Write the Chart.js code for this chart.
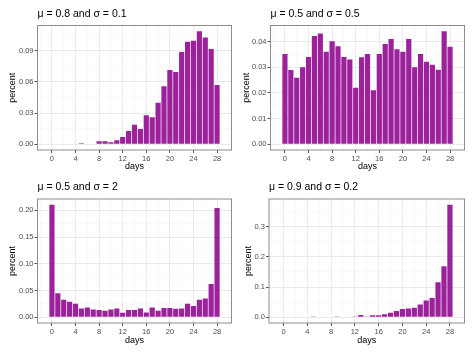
<!DOCTYPE html>
<html>
<head>
<meta charset="utf-8">
<script src="https://cdn.jsdelivr.net/npm/chart.js@4/dist/chart.umd.min.js"></script>
<style>
  html, body { margin: 0; padding: 0; background: #ffffff; }
  #wrap { position: relative; width: 474px; height: 355px; }
  canvas { position: absolute; display: block; }
</style>
</head>
<body>
<div id="wrap">
  <canvas id="c1" width="237" height="177" style="left:0;top:0"></canvas>
  <canvas id="c2" width="237" height="177" style="left:237px;top:0"></canvas>
  <canvas id="c3" width="237" height="178" style="left:0;top:177px"></canvas>
  <canvas id="c4" width="237" height="178" style="left:237px;top:177px"></canvas>
</div>
<script>
// ---- data ----
const days = [0,1,2,3,4,5,6,7,8,9,10,11,12,13,14,15,16,17,18,19,20,21,22,23,24,25,26,27,28];
const titles = ["\u03BC = 0.8 and \u03C3 = 0.1", "\u03BC = 0.5 and \u03C3 = 0.5", "\u03BC = 0.5 and \u03C3 = 2", "\u03BC = 0.9 and \u03C3 = 0.2"];
const valuesA = [0,0,0,0,0,0.001,0,0,0.003,0.003,0.002,0.004,0.007,0.0127,0.0188,0.0146,0.028,0.026,0.040,0.0557,0.0713,0.0694,0.0885,0.0984,0.0994,0.1086,0.1025,0.0914,0.057];
const valuesB = [0.0351,0.0289,0.0259,0.0300,0.0340,0.0421,0.0431,0.0360,0.0401,0.0381,0.0340,0.0330,0.0220,0.0339,0.0351,0.0210,0.0351,0.0390,0.0410,0.0370,0.0360,0.0410,0.0300,0.0351,0.0321,0.0309,0.0290,0.0440,0.0379];
const valuesC = [0.2105,0.045,0.033,0.029,0.0253,0.0167,0.0185,0.0148,0.0136,0.0123,0.0148,0.0167,0.0086,0.0136,0.0136,0.0167,0.0093,0.0185,0.0123,0.0173,0.0173,0.016,0.0167,0.0253,0.021,0.0327,0.0352,0.0623,0.204];
const valuesD = [0,0,0,0,0,0.001,0,0,0,0.001,0.002,0.002,0.003,0.0077,0.001,0.0066,0.0066,0.0099,0.0153,0.0208,0.0274,0.0296,0.0318,0.0427,0.0559,0.0635,0.116,0.169,0.372];
const xTickStep = 4;
const yMajorSteps = [0.03, 0.01, 0.05, 0.1];
const yDecimals = [2, 2, 2, 1];
const xLabel = "days";
const yLabel = "percent";

// ---- styling ----
const FONT = "'Liberation Sans', Arial, Helvetica, sans-serif";
const BAR = '#9C229C';
const GRID_MAJOR = '#EBEBEB';
const GRID_MINOR = '#F3F3F3';

const borderPlugin = {
  id: 'panelBorder',
  afterDraw(chart) {
    const a = chart.chartArea, ctx = chart.ctx;
    ctx.save();
    ctx.strokeStyle = '#8c8c8c';
    ctx.lineWidth = 1;
    ctx.strokeRect(a.left, a.top, a.right - a.left, a.bottom - a.top);
    ctx.restore();
  }
};

function isMult(v, step) {
  const r = v / step;
  return Math.abs(r - Math.round(r)) < 1e-6;
}

function makePanel(id, title, values, majorStep, decimals, lay) {
  const H = document.getElementById(id).height;
  const W = 237;
  const maxV = Math.max(...values);
  const yMin = -maxV * 0.05, yMax = maxV * 1.05;
  const minorStep = majorStep / 2;
  new Chart(document.getElementById(id), {
    type: 'bar',
    data: {
      datasets: [{
        data: days.map((d, i) => ({ x: d, y: values[i] })),
        backgroundColor: BAR,
        borderWidth: 0,
        barPercentage: 0.88,
        categoryPercentage: 1.0
      }]
    },
    options: {
      responsive: false,
      animation: false,
      devicePixelRatio: 1,
      layout: { padding: { left: 0, top: 0, right: W - lay.right, bottom: 0 } },
      plugins: {
        legend: { display: false },
        tooltip: { enabled: false },
        title: {
          display: true,
          text: title,
          align: 'start',
          fullSize: false,
          color: '#000',
          font: { family: FONT, size: 10.5, weight: 'normal', lineHeight: 1.2 },
          padding: { top: lay.titleCenter - 6.3, bottom: lay.top - 12.6 - (lay.titleCenter - 6.3) }
        }
      },
      scales: {
        x: {
          type: 'linear',
          min: -2.45, max: 30.45,
          offset: false,
          border: { display: false },
          grid: {
            offset: false,
            drawTicks: true,
            tickLength: 3,
            color: c => isMult(c.tick.value, xTickStep) ? GRID_MAJOR : GRID_MINOR,
            lineWidth: c => isMult(c.tick.value, xTickStep) ? 1 : 0.6,
            tickColor: c => isMult(c.tick.value, xTickStep) ? '#555' : 'rgba(0,0,0,0)'
          },
          ticks: {
            stepSize: xTickStep / 2,
            includeBounds: false,
            autoSkip: false,
            maxRotation: 0,
            maxTicksLimit: 100,
            padding: 1,
            color: '#4D4D4D',
            font: { family: FONT, size: 7.5 },
            callback: v => isMult(v, xTickStep) ? String(Math.round(v)) : ''
          },
          title: {
            display: true, text: xLabel, color: '#000',
            font: { family: FONT, size: 9, lineHeight: 1.2 },
            padding: { top: 0, bottom: lay.xTitleOff - 5.4 }
          },
          afterFit: s => { s.height = H - lay.bottom; }
        },
        y: {
          type: 'linear',
          min: yMin, max: yMax,
          border: { display: false },
          grid: {
            drawTicks: true,
            tickLength: 3,
            color: c => isMult(c.tick.value, majorStep) ? GRID_MAJOR : GRID_MINOR,
            lineWidth: c => isMult(c.tick.value, majorStep) ? 1 : 0.6,
            tickColor: c => isMult(c.tick.value, majorStep) ? '#555' : 'rgba(0,0,0,0)'
          },
          ticks: {
            stepSize: minorStep,
            includeBounds: false,
            autoSkip: false,
            maxTicksLimit: 100,
            padding: 1,
            color: '#4D4D4D',
            font: { family: FONT, size: 7.5 },
            callback: v => isMult(v, majorStep) ? Number(v).toFixed(decimals) : ''
          },
          title: {
            display: true, text: yLabel, color: '#000',
            font: { family: FONT, size: 9, lineHeight: 1.2 },
            padding: { top: lay.yTitleX - 5.4, bottom: 0 }
          },
          afterFit: s => { s.width = lay.left; }
        }
      }
    },
    plugins: [borderPlugin]
  });
}

makePanel('c1', titles[0], valuesA, yMajorSteps[0], yDecimals[0],
  { left: 37.5, right: 231.5, top: 25.5, bottom: 150, titleCenter: 14, xTitleOff: 10, yTitleX: 12.5 });
makePanel('c2', titles[1], valuesB, yMajorSteps[1], yDecimals[1],
  { left: 33.5, right: 227.5, top: 25.5, bottom: 150, titleCenter: 14, xTitleOff: 10, yTitleX: 10 });
makePanel('c3', titles[2], valuesC, yMajorSteps[2], yDecimals[2],
  { left: 37.5, right: 231.5, top: 22, bottom: 146, titleCenter: 10, xTitleOff: 14, yTitleX: 13 });
makePanel('c4', titles[3], valuesD, yMajorSteps[3], yDecimals[3],
  { left: 32, right: 227.5, top: 22, bottom: 146, titleCenter: 10, xTitleOff: 14, yTitleX: 11.5 });
</script>
</body>
</html>
